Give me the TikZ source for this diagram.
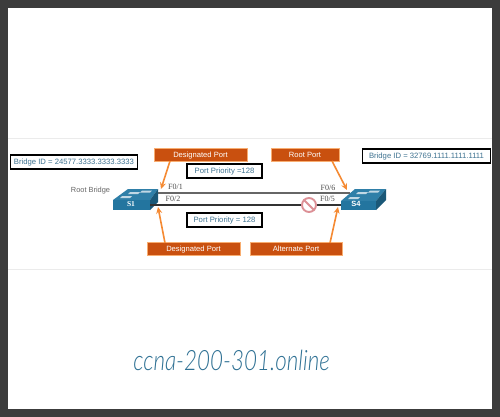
\documentclass[tikz,border=0pt]{standalone}
\usepackage{fontspec}
\setmainfont{Liberation Sans}
\newfontfamily\serifport{Liberation Serif}
\newfontfamily\hand[ItalicFont={Lato Light Italic}]{Lato Light}
\usetikzlibrary{arrows.meta}
\definecolor{framegray}{HTML}{3C3C3C}
\definecolor{portorange}{HTML}{C9500F}
\definecolor{arroworange}{HTML}{F58A33}
\definecolor{infoblue}{HTML}{3F7391}
\definecolor{swfront}{HTML}{23759F}
\definecolor{swtop}{HTML}{2F7FA8}
\definecolor{swside}{HTML}{1A5878}
\definecolor{blockpink}{HTML}{DC9096}
\definecolor{handblue}{HTML}{2F7194}
\tikzset{
  x=1pt,y=-1pt,
  portbox/.style={draw=arroworange!70!white,line width=.5pt,fill=portorange,text=white,font=\fontsize{7.6}{8}\selectfont,inner sep=0pt,minimum height=13pt,text height=5.5pt,text depth=0pt},
  infobox/.style={draw=black,line width=1.8pt,fill=white,text=infoblue,font=\fontsize{7.7}{8}\selectfont,inner sep=0pt,minimum height=14pt,text height=5.5pt,text depth=0pt},
  portlabel/.style={font=\serifport\fontsize{8}{9}\selectfont,text=black!70,inner sep=0pt},
  pointer/.style={draw=arroworange,line width=1.6pt,-{Stealth[length=6.5pt,width=6pt]}},
  linkline/.style={line width=2pt},
}
\begin{document}
\begin{tikzpicture}
\useasboundingbox (0,0) rectangle (500,417);
\fill[framegray] (0,0) rectangle (500,417);
\fill[white] (8,8) rectangle (492,409);
\draw[black!8,line width=.7pt] (8,138) -- (492,138);
\draw[black!8,line width=.7pt] (8,269) -- (492,269);
% switches
\fill[swtop] (113,200) -- (128,189) -- (158,189) -- (150,200) -- cycle;
\fill[swside] (158,189) -- (158,202) -- (150,210) -- (150,200) -- cycle;
\fill[swfront] (113,200) rectangle (150,210);
\fill[white!70!swtop] (130,192) -- (140,192) -- (138,194) -- (128,194) -- cycle;
\fill[white!70!swtop] (122,196) -- (132,196) -- (130,198) -- (120,198) -- cycle;
\fill[white!70!swtop] (142,190.5) -- (152,190.5) -- (150,192.5) -- (140,192.5) -- cycle;
\fill[swtop] (341,201) -- (355,189) -- (386,189) -- (376,201) -- cycle;
\fill[swside] (386,189) -- (386,200) -- (376,210) -- (376,201) -- cycle;
\fill[swfront] (341,201) rectangle (376,210);
\fill[white!70!swtop] (358,192) -- (368,192) -- (366,194) -- (356,194) -- cycle;
\fill[white!70!swtop] (350,197) -- (360,197) -- (358,199) -- (348,199) -- cycle;
\fill[white!70!swtop] (370,190.5) -- (380,190.5) -- (378,192.5) -- (368,192.5) -- cycle;
\node[text=white,font=\serifport\bfseries\fontsize{7.5}{8}\selectfont,inner sep=0pt] (s1) at (131,204.5) {S1};
\node[text=white,font=\bfseries\fontsize{7.5}{8}\selectfont,inner sep=0pt] (s4) at (356,204) {S4};
% link ends and arrow targets on the switches
\coordinate (s1top) at (158,192.5);
\coordinate (s1bot) at (150,204.5);
\coordinate (s4top) at (350,192.5);
\coordinate (s4bot) at (341,204.5);
\coordinate (s1a) at (161,189);
\coordinate (s1b) at (158,207);
\coordinate (s4a) at (347,190);
\coordinate (s4b) at (338,207);
\draw[linkline,draw=black!60] (s1top) -- (s4top);
\draw[linkline,draw=black!80] (s1bot) -- (s4bot);
% blocked port
\node[circle,draw=blockpink,line width=1.9pt,fill=white,minimum size=14pt,inner sep=0pt] (block) at (309,205) {};
\draw[blockpink,line width=1.9pt] (block.135) -- (block.315);
% port boxes
\node[portbox,minimum width=93pt] (dp1) at (200.5,154.5) {Designated Port};
\node[portbox,minimum width=68pt] (rp) at (305,154.5) {Root Port};
\node[portbox,minimum width=93pt] (dp2) at (193.5,249) {Designated Port};
\node[portbox,minimum width=92pt] (ap) at (296,249) {Alternate Port};
\node[infobox,minimum width=127pt] (bid1) at (74,162) {Bridge ID = 24577.3333.3333.3333};
\node[infobox,minimum width=128pt] (bid4) at (426.5,156) {Bridge ID = 32769.1111.1111.1111};
\node[infobox,minimum width=75pt] (pp1) at (224.5,171) {Port Priority =128};
\node[infobox,minimum width=75pt] (pp2) at (224.5,220) {Port Priority = 128};
% arrows
\coordinate (dp1a) at (170,161);
\coordinate (rpa) at (332,161);
\coordinate (dp2a) at (165,243);
\coordinate (apa) at (330,243);
\draw[pointer] (dp1a) -- (s1a);
\draw[pointer] (dp2a) -- (s1b);
\draw[pointer] (rpa) -- (s4a);
\draw[pointer] (apa) -- (s4b);
% labels
\node[text=black!60,font=\fontsize{7.4}{8}\selectfont,inner sep=0pt] (rb) at (90.5,191) {Root Bridge};
\node[portlabel] (f01) at (175.5,187) {F0/1};
\node[portlabel] (f02) at (173,199) {F0/2};
\node[portlabel] (f06) at (328,187.5) {F0/6};
\node[portlabel] (f05) at (327.5,198.5) {F0/5};
\node[text=handblue,font=\hand\itshape\fontsize{28}{30}\selectfont,inner sep=0pt] (brand) at (231.5,360) {\scalebox{.8}[1]{ccna-200-301.online}};
\end{tikzpicture}
\end{document}
